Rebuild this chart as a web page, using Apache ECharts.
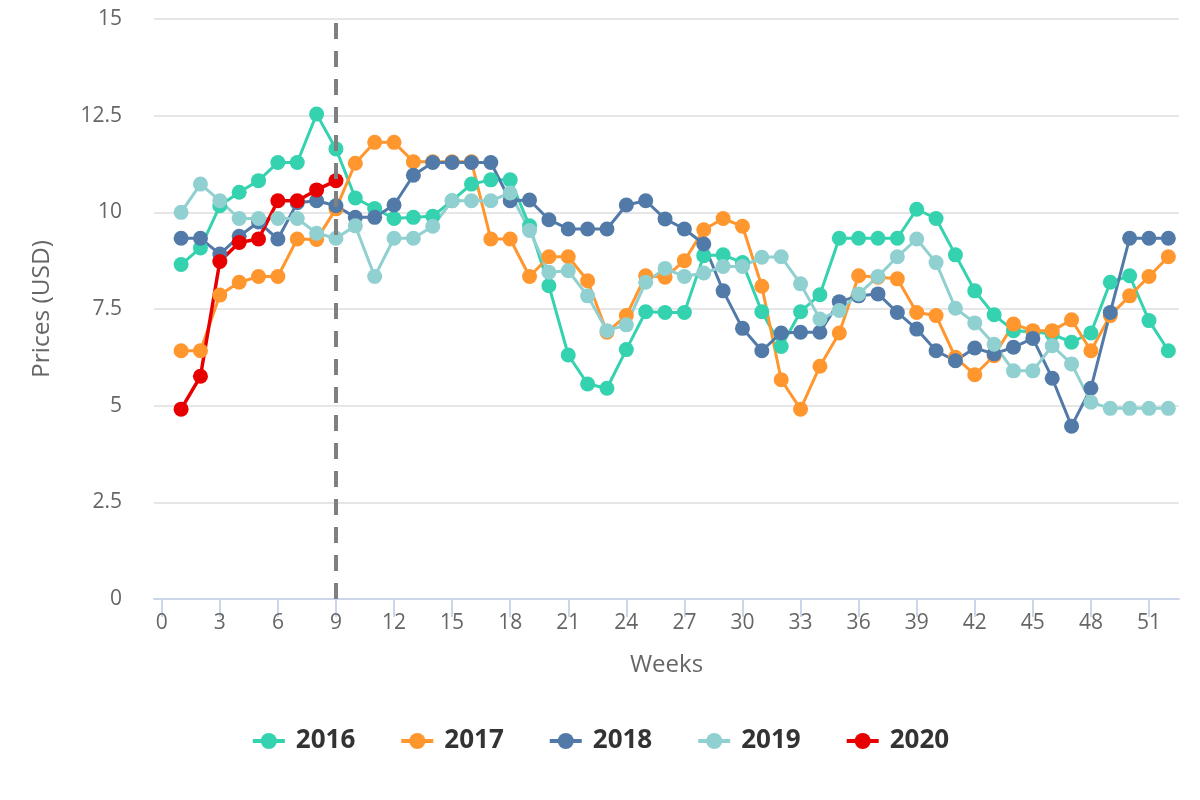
<!DOCTYPE html>
<html>
<head>
<meta charset="utf-8">
<script src="https://cdn.jsdelivr.net/npm/echarts@6/dist/echarts.min.js"></script>
<style>html,body{margin:0;padding:0;background:#fff}#c{width:1200px;height:800px}</style>
</head>
<body>
<div id="c"></div>
<script>
var weeks = [1,2,3,4,5,6,7,8,9,10,11,12,13,14,15,16,17,18,19,20,21,22,23,24,25,26,27,28,29,30,31,32,33,34,35,36,37,38,39,40,41,42,43,44,45,46,47,48,49,50,51,52];
var xTicks = [0,3,6,9,12,15,18,21,24,27,30,33,36,39,42,45,48,51];
var seriesNames = ['2016','2017','2018','2019','2020'];
var s2016 = [8.65,9.08,10.17,10.52,10.82,11.29,11.29,12.54,11.64,10.37,
             10.1,9.84,9.87,9.9,10.3,10.73,10.84,10.84,9.65,8.1,
             6.31,5.56,5.45,6.45,7.43,7.41,7.41,8.88,8.9,8.7,
             7.43,6.53,7.43,7.87,9.33,9.33,9.33,9.33,10.08,9.84,
             8.9,7.97,7.35,6.94,6.91,6.85,6.64,6.88,8.19,8.36,7.2,6.42];
var s2017 = [6.42,6.42,7.86,8.19,8.34,8.34,9.31,9.3,10.09,11.27,
             11.81,11.81,11.31,11.31,11.31,11.31,9.31,9.31,8.34,8.85,
             8.85,8.23,6.9,7.33,8.36,8.32,8.75,9.55,9.84,9.64,
             8.09,5.67,4.91,6.02,6.88,8.36,8.32,8.28,7.41,7.33,
             6.25,5.8,6.29,7.11,6.94,6.94,7.22,6.42,7.33,7.84,8.34,8.85];
var s2018 = [9.33,9.33,8.92,9.38,9.75,9.31,10.25,10.3,10.17,9.87,
             9.87,10.19,10.96,11.29,11.29,11.29,11.29,10.3,10.32,9.81,
             9.57,9.57,9.57,10.19,10.3,9.83,9.57,9.18,7.97,7.0,
             6.42,6.88,6.9,6.9,7.69,7.84,7.89,7.41,6.98,6.42,
             6.16,6.49,6.34,6.51,6.74,5.71,4.47,5.45,7.41,9.33,9.33,9.33];
var s2019 = [10.0,10.73,10.3,9.84,9.84,9.84,9.84,9.46,9.33,9.65,
             8.34,9.33,9.33,9.64,10.3,10.3,10.3,10.5,9.53,8.45,
             8.49,7.84,6.94,7.09,8.19,8.55,8.34,8.43,8.6,8.6,
             8.84,8.85,8.15,7.24,7.46,7.89,8.34,8.85,9.31,8.7,
             7.52,7.14,6.59,5.9,5.9,6.55,6.08,5.09,4.93,4.93,4.93,4.93];
var s2020 = [4.91,5.76,8.73,9.22,9.31,10.3,10.3,10.58,10.82];
var markerWeek = 9;

var colors = ['#34d2af','#ff962e','#527aa8','#91d0d0','#e80000'];
var values = [s2016,s2017,s2018,s2019,s2020];
var FONT = '"Open Sans", "Liberation Sans", sans-serif';

function pairs(arr){ return arr.map(function(v,i){ return [weeks[i], v]; }); }

var series = values.map(function(arr, k){
  var s = {
    name: seriesNames[k],
    type: 'line',
    data: pairs(arr),
    symbol: 'circle',
    symbolSize: 15,
    showSymbol: true,
    lineStyle: { width: k === 4 ? 3.5 : 3, color: colors[k] },
    itemStyle: { color: colors[k] },
    emphasis: { disabled: true },
    animation: false
  };
  if (k === 0) {
    s.markLine = {
      silent: true,
      symbol: ['none','none'],
      label: { show: false },
      lineStyle: { color: '#808080', width: 4, type: [16,12] },
      data: [{ xAxis: markerWeek }]
    };
  }
  return s;
});

var chart = echarts.init(document.getElementById('c'), null, { renderer: 'canvas' });
chart.setOption({
  animation: false,
  color: colors,
  grid: { left: 154, right: 21, top: 19, bottom: 201, containLabel: false },
  xAxis: {
    type: 'value',
    min: -0.4,
    max: 52.55,
    name: 'Weeks',
    nameLocation: 'middle',
    nameGap: 54,
    nameTextStyle: { color: '#666666', fontSize: 24, fontFamily: FONT, verticalAlign: 'top' },
    axisLine: { show: true, lineStyle: { color: '#ccd6eb', width: 2 } },
    axisTick: { show: true, length: 18, lineStyle: { color: '#ccd6eb', width: 2 }, customValues: xTicks },
    axisLabel: { color: '#666666', fontSize: 21, fontFamily: FONT, margin: 14, customValues: xTicks },
    splitLine: { show: false }
  },
  yAxis: {
    type: 'value',
    min: 0,
    max: 15,
    interval: 2.5,
    name: 'Prices (USD)',
    nameLocation: 'middle',
    nameGap: 99,
    nameTextStyle: { color: '#666666', fontSize: 24.5, fontFamily: FONT },
    axisLine: { show: false },
    axisTick: { show: false },
    axisLabel: { color: '#666666', fontSize: 21, fontFamily: FONT, margin: 32 },
    splitLine: { show: true, lineStyle: { color: '#e6e6e6', width: 2 } }
  },
  legend: {
    data: seriesNames,
    left: 'center',
    top: 723,
    itemWidth: 32,
    itemHeight: 20,
    itemGap: 44,
    lineStyle: { width: 4 },
    textStyle: { color: '#333333', fontSize: 26, fontWeight: 'bold', fontFamily: FONT, padding: [0,0,0,6] }
  },
  series: series
});
</script>
</body>
</html>
